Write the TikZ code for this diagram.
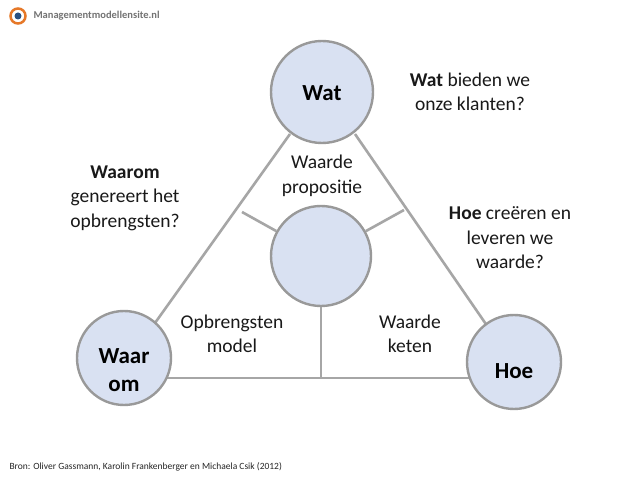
\documentclass[tikz,border=0pt]{standalone}
\usepackage{fontspec}
\setmainfont{Carlito}
\definecolor{cfill}{RGB}{217,225,242}
\definecolor{lorange}{RGB}{230,120,40}
\definecolor{lblue}{RGB}{40,80,130}
\begin{document}
\begin{tikzpicture}[x=1pt,y=-1pt,
  edge/.style={draw=black!35,line width=2.6pt},
  circ/.style={circle,draw=black!40,line width=2.4pt,fill=cfill,inner sep=0pt},
  txt/.style={font=\fontsize{19.5}{24.5}\selectfont,align=center,text=black!90},
  big/.style={font=\fontsize{23}{28}\selectfont\bfseries,align=center}]
\useasboundingbox[fill=white] (0,0) rectangle (638,478);
\coordinate (tl) at (290,134); \coordinate (bl) at (150,330);
\coordinate (tr) at (355,134); \coordinate (br) at (490,330);
\coordinate (lb) at (165,378); \coordinate (rb) at (470,378);
\coordinate (sl) at (242,212); \coordinate (sr) at (404,210); \coordinate (sb) at (321,378);
\draw[edge] (tl)--(bl); \draw[edge] (tr)--(br); \draw[edge] (lb)--(rb);
\node[circ,minimum size=100] (c) at (321,256) {};
\draw[edge] (c)--(sl); \draw[edge] (c)--(sr); \draw[edge] (c.south)--(sb);
\node[circ,minimum size=102] (wat) at (322,92) {};
\node[circ,minimum size=94] (waar) at (124,358) {};
\node[circ,minimum size=94] (hoe) at (514,362) {};
\node[big] (twat) at (322,93) {Wat};
\node[big] (twaar) at (124,370) {Waar\\om};
\node[big] (thoe) at (514,371) {Hoe};
\node[txt] (q1) at (470,92) {\textbf{Wat} bieden we\\onze klanten?};
\node[txt] (q2) at (125,198) {\textbf{Waarom}\\genereert het\\opbrengsten?};
\node[txt] (q3) at (510,238) {\textbf{Hoe} creëren en\\leveren we\\waarde?};
\node[txt] (l1) at (322,176) {Waarde\\propositie};
\node[txt] (l2) at (232,334) {Opbrengsten\\model};
\node[txt] (l3) at (410,334) {Waarde\\keten};
\node[anchor=west,font=\fontsize{9.5}{11}\selectfont,text=black!85] (src) at (6,467) {Bron: Oliver Gassmann, Karolin Frankenberger en Michaela Csik (2012)};
\node[circle,draw=lorange,line width=2.5pt,minimum size=15,inner sep=0pt,fill=white] (logo) at (18,16) {};
\fill[lblue] (logo.center) circle (3.5);
\node[anchor=west,font=\fontsize{10.5}{12}\selectfont\bfseries,text=black!55] (brand) at (30,16) {Managementmodellensite.nl};
\end{tikzpicture}
\end{document}
